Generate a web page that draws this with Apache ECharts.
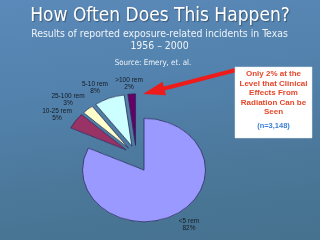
<!DOCTYPE html>
<html><head><meta charset="utf-8">
<script src="https://cdn.jsdelivr.net/npm/echarts@6/dist/echarts.min.js"></script>
<style>
html,body{margin:0;padding:0;width:320px;height:240px;overflow:hidden;}
body{background:linear-gradient(172deg,#5b89b9 0%,#5282ad 35%,#4b7799 70%,#46728f 100%);position:relative;}
#pie{position:absolute;left:0;top:0;width:320px;height:290px;transform:scaleY(0.84);transform-origin:0 0;z-index:1;}
#main{position:absolute;left:0;top:0;width:320px;height:240px;z-index:2;}
</style></head>
<body>
<div id="pie"></div>
<div id="main"></div>
<script>
// ---- data ----
const categories = ['<5 rem', '10-25 rem', '25-100 rem', '5-10 rem', '>100 rem'];
const values = [82, 5, 3, 8, 2];
const colors = ['#9999ff', '#993366', '#ffffcc', '#ccffff', '#660066'];
const titleText = 'How Often Does This Happen?';
const subtitleLines = ['Results of reported exposure-related incidents in Texas', '1956 \u2013 2000'];
const sourceText = 'Source: Emery, et. al.';
const noteLines = ['Only 2% at the', 'Level that Clinical', 'Effects From', 'Radiation Can be', 'Seen'];
const noteCount = '(n=3,148)';

// ---- pie (drawn in a vertically squashed container to get the elliptical look) ----
const pie = echarts.init(document.getElementById('pie'), null, {width: 320, height: 290});
const border = '#2b2b55';
function mk(i, visible, sel) {
  return {
    name: categories[i], value: values[i], selected: sel,
    itemStyle: visible ? {color: colors[i], borderColor: border, borderWidth: 0.8}
                       : {color: 'transparent', borderWidth: 0}
  };
}
pie.setOption({
  animation: false,
  series: [
    {
      type: 'pie', center: [144, 202.4], radius: 61.5, startAngle: 90, clockwise: true,
      label: {show: false}, labelLine: {show: false}, silent: true, emphasis: {disabled: true},
      data: categories.map((c, i) => mk(i, i === 0, false))
    },
    {
      type: 'pie', center: [136.3, 185.2], radius: 61.5, startAngle: 90, clockwise: true,
      selectedMode: 'multiple', selectedOffset: 12,
      label: {show: false}, labelLine: {show: false}, silent: true, emphasis: {disabled: true},
      data: categories.map((c, i) => mk(i, i !== 0, i !== 0))
    }
  ]
});

// ---- text, note box, arrow ----
const main = echarts.init(document.getElementById('main'), null, {width: 320, height: 240});
const labelPos = [[189, 221], [57, 111], [68, 96], [95, 84], [129, 80]];
const g = [];
g.push({type: 'text', left: 'center', top: 7, style: {text: titleText, fill: '#ffffff',
  font: '19px "DejaVu Sans Condensed", "DejaVu Sans", sans-serif',
  textShadowColor: 'rgba(0,0,0,0.35)', textShadowOffsetX: 1, textShadowOffsetY: 1, textShadowBlur: 1}});
subtitleLines.forEach((t, k) => g.push({type: 'text', x: 159.5, y: 34.5 + k * 11.5, style: {text: t,
  fill: '#eef3f8', align: 'center', verticalAlign: 'middle',
  font: '10.4px "DejaVu Sans Condensed", "DejaVu Sans", sans-serif',
  textShadowColor: 'rgba(0,0,0,0.3)', textShadowOffsetX: 0.7, textShadowOffsetY: 0.7}}));
g.push({type: 'text', x: 153, y: 63, style: {text: sourceText, fill: '#eef3f8', align: 'center',
  verticalAlign: 'middle', font: '7.9px "DejaVu Sans Condensed", "DejaVu Sans", sans-serif',
  textShadowColor: 'rgba(0,0,0,0.3)', textShadowOffsetX: 0.5, textShadowOffsetY: 0.5}});
categories.forEach((c, i) => g.push({type: 'text', x: labelPos[i][0], y: labelPos[i][1] - 3.5,
  style: {text: c + '\n' + values[i] + '%', fill: '#161a22', align: 'center', verticalAlign: 'top',
  font: '6.5px "Liberation Sans", Arial, sans-serif', lineHeight: 7}}));
// arrow
g.push({type: 'polygon', shape: {points: [[235.5, 68.1], [163.8, 86.6], [162.5, 81.7], [143, 94],
  [166, 95.3], [164.8, 90.4], [236.5, 71.9]]}, style: {fill: '#ee1b1b'}});
// note box
g.push({type: 'rect', shape: {x: 235, y: 67, width: 77, height: 71}, style: {fill: '#ffffff', stroke: '#dde6ee', lineWidth: 0.5}});
noteLines.forEach((t, k) => g.push({type: 'text', x: 273.5, y: 74 + k * 9.5, style: {text: t,
  fill: '#e4472a', align: 'center', verticalAlign: 'middle',
  font: 'bold 8px "Liberation Sans", Arial, sans-serif'}}));
g.push({type: 'text', x: 273.5, y: 126, style: {text: noteCount, fill: '#3b7fd6', align: 'center',
  verticalAlign: 'middle', font: 'bold 7.5px "Liberation Sans", Arial, sans-serif'}});
main.setOption({animation: false, backgroundColor: 'transparent', graphic: g});
</script>
</body></html>
